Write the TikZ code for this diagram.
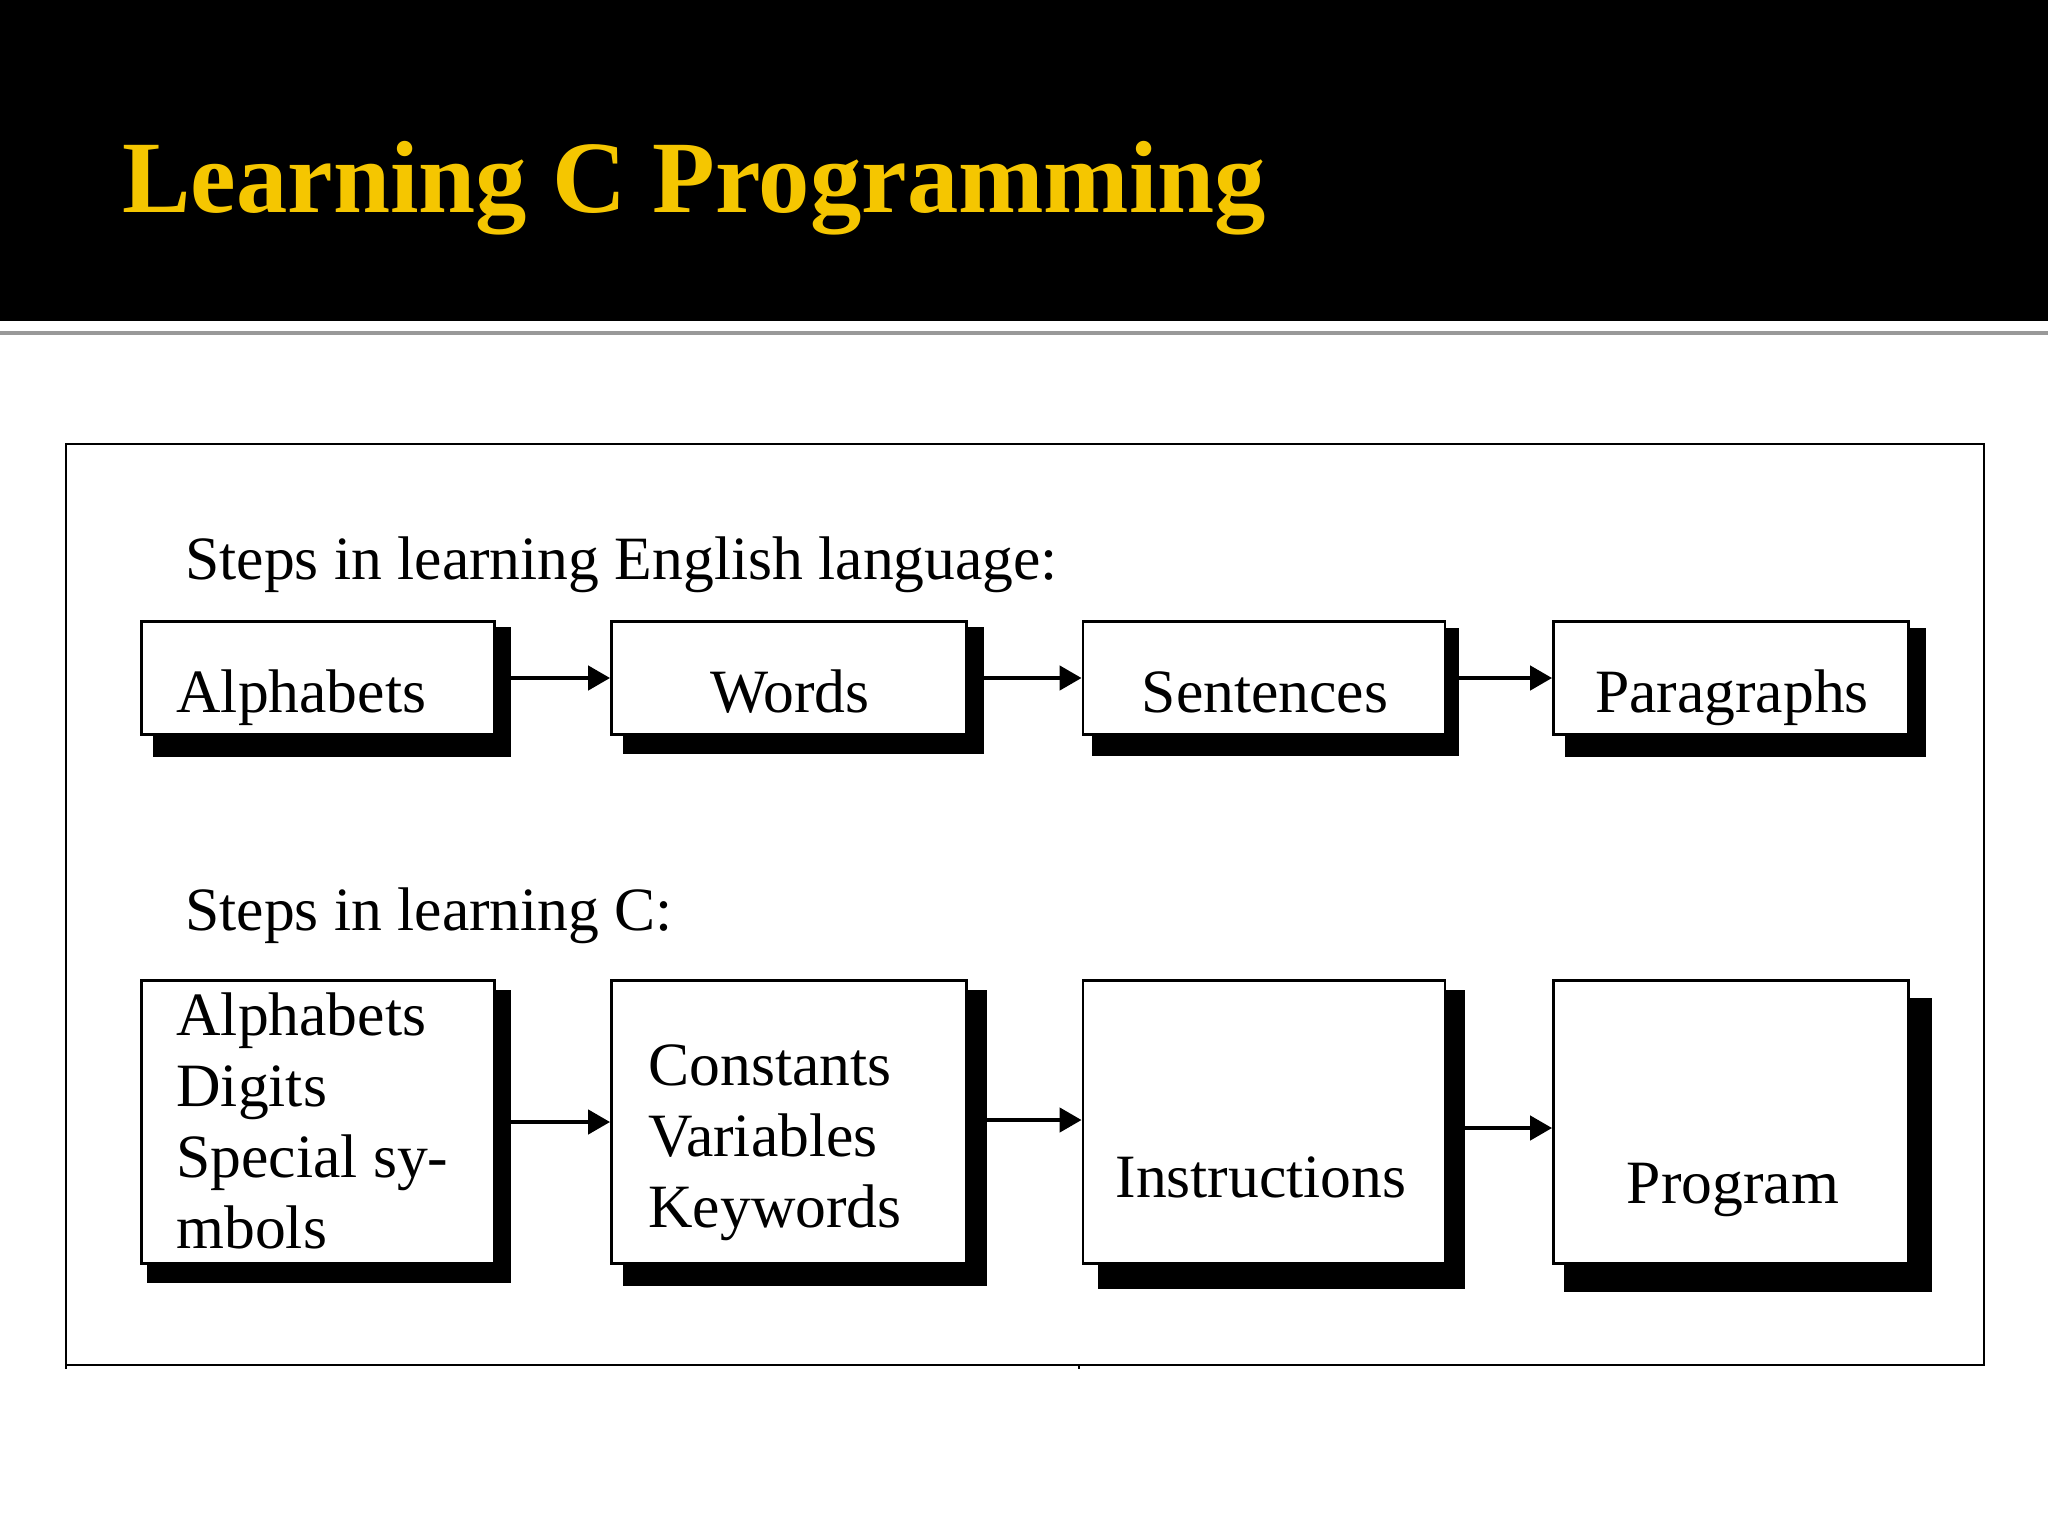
\documentclass[tikz,border=0pt]{standalone}
\usepackage{fontspec}
\setmainfont{Liberation Serif}
\usetikzlibrary{arrows.meta}
\definecolor{titlegold}{RGB}{245,198,0}
\begin{document}
\begin{tikzpicture}[x=0.5pt,y=-0.5pt,
  stepbox/.style={draw=black, line width=1.4pt, fill=white, inner sep=0pt},
  rowone/.style={stepbox, minimum height=56.5pt},
  rowtwo/.style={stepbox, minimum height=141.5pt},
  shade/.style={fill=black},
  txt/.style={inner sep=0pt, font=\fontsize{30.8pt}{35.4pt}\selectfont},
  arr/.style={line width=2.2pt, -{Triangle[length=11pt,width=12pt]}}]
\useasboundingbox (0,0) rectangle (2048,1536);
\fill[white] (0,0) rectangle (2048,1536);
% header
\fill[black] (0,0) rectangle (2048,321);
\draw[black!40, line width=2pt] (0,333) -- (2048,333);
\node[anchor=base west, inner sep=0pt, text=titlegold,
  font=\fontsize{51.3pt}{51.3pt}\selectfont\bfseries] (title) at (122,212) {Learning C Programming};
% frame
\draw[line width=1.35pt] (66,444) rectangle (1984,1365);
\draw[line width=1.2pt] (66,1365) -- (66,1369);
\draw[line width=1.2pt] (1079,1365) -- (1079,1369);
% headings
\node[txt, anchor=base west] (h1) at (185,579) {Steps in learning English language:};
\node[txt, anchor=base west] (h2) at (185,930) {Steps in learning C:};
% shadows
\fill[shade] (153,627) rectangle (511,757);
\fill[shade] (623,627) rectangle (984,754);
\fill[shade] (1092,628) rectangle (1459,756);
\fill[shade] (1565,628) rectangle (1926,757);
\fill[shade] (147,990) rectangle (511,1283);
\fill[shade] (623,990) rectangle (987,1286);
\fill[shade] (1098,990) rectangle (1465,1289);
\fill[shade] (1564,998) rectangle (1932,1292);
% row 1 boxes
\node[rowone, minimum width=176.5pt] (b1) at (318,678) {};
\node[rowone, minimum width=177.5pt] (b2) at (789,678) {};
\node[rowone, minimum width=181pt] (b3) at (1264,678) {};
\node[rowone, minimum width=177.5pt] (b4) at (1731,678) {};
% row 2 boxes
\node[rowtwo, minimum width=176.5pt] (c1) at (318,1122) {};
\node[rowtwo, minimum width=177.5pt] (c2) at (789,1122) {};
\node[rowtwo, minimum width=181pt] (c3) at (1264,1122) {};
\node[rowtwo, minimum width=177.5pt] (c4) at (1731,1122) {};
% row 1 texts
\node[txt, anchor=base west] (t1) at (176,712) {Alphabets};
\node[txt, anchor=base] (t2) at (790,712) {Words};
\node[txt, anchor=base] (t3) at (1265,712) {Sentences};
\node[txt, anchor=base] (t4) at (1732,712) {Paragraphs};
% row 2 texts (base anchor = last line)
\node[txt, anchor=base west, align=left] (u1) at (176,1248) {Alphabets\\Digits\\Special sy-\\mbols};
\node[txt, anchor=base west, align=left] (u2) at (648,1227) {Constants\\Variables\\Keywords};
\node[txt, anchor=base] (u3) at (1261,1197) {Instructions};
\node[txt, anchor=base] (u4) at (1733,1203) {Program};
% arrows
\draw[arr] ([xshift=7.5pt]b1.east) -- (b2.west);
\draw[arr] ([xshift=8pt]b2.east) -- (b3.west);
\draw[arr] ([xshift=6pt]b3.east) -- (b4.west);
\draw[arr] ([xshift=7.5pt]c1.east) -- (c2.west);
\draw[arr] ([xshift=9.5pt,yshift=1pt]c2.east) -- ([yshift=1pt]c3.west);
\draw[arr] ([xshift=9pt,yshift=-3pt]c3.east) -- ([yshift=-3pt]c4.west);
\end{tikzpicture}
\end{document}
